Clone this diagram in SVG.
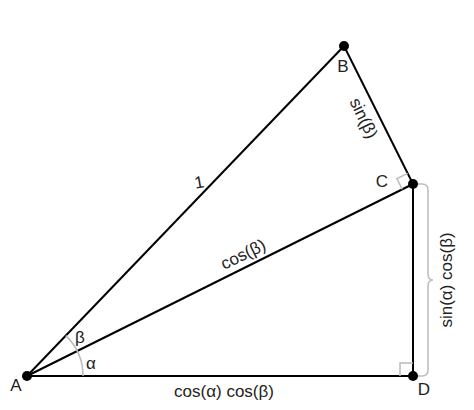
<svg xmlns="http://www.w3.org/2000/svg" width="474" height="410" viewBox="0 0 474 410">
<style>
.ln{stroke:#000;stroke-width:2;fill:none}
.gr{stroke:#bbb;stroke-width:1.5;fill:none}
.dot{fill:#000}
text{font-family:"Liberation Sans",Arial,sans-serif;font-size:17px;fill:#222;text-anchor:middle}
</style>
<rect width="474" height="410" fill="#fff"/>
<g id="connectors">
<line class="ln" x1="27" y1="376" x2="344" y2="46"/>
<line class="ln" x1="27" y1="376" x2="413" y2="184"/>
<line class="ln" x1="27" y1="376" x2="413" y2="376"/>
<line class="ln" x1="344" y1="46" x2="413" y2="184"/>
<line class="ln" x1="413" y1="184" x2="413" y2="376"/>
<path class="gr" d="M83,376 A56,56 0 0 0 65.8,335.6"/>
<polyline class="gr" points="402.2,189.3 396.9,178.6 407.7,173.3"/>
<polyline class="gr" points="400,376 400,363 413,363"/>
<path class="gr" d="M417,184 H422 Q428,184 428,190 V274 Q428,280 433,280 Q428,280 428,286 V370 Q428,376 422,376 H417"/>
<text x="199" y="188" transform="rotate(-10 199 182)">1</text>
<text x="243" y="260" transform="rotate(-26.4 243 254)">cos(β)</text>
<text x="364" y="124" transform="rotate(63.8 364 118)">sin(β)</text>
<text x="446" y="286" transform="rotate(-90 446 280)">sin(α) cos(β)</text>
<text x="224" y="397">cos(α) cos(β)</text>
<text x="80" y="343" font-size="16">β</text>
<text x="91" y="369" font-size="16">α</text>
</g>
<g id="A"><circle class="dot" cx="27" cy="376" r="5"/><text x="16" y="391">A</text></g>
<g id="B"><circle class="dot" cx="344" cy="46" r="5"/><text x="343" y="72">B</text></g>
<g id="C"><circle class="dot" cx="413" cy="184" r="5"/><text x="382" y="187">C</text></g>
<g id="D"><circle class="dot" cx="413" cy="376" r="5"/><text x="424" y="395">D</text></g>
</svg>
